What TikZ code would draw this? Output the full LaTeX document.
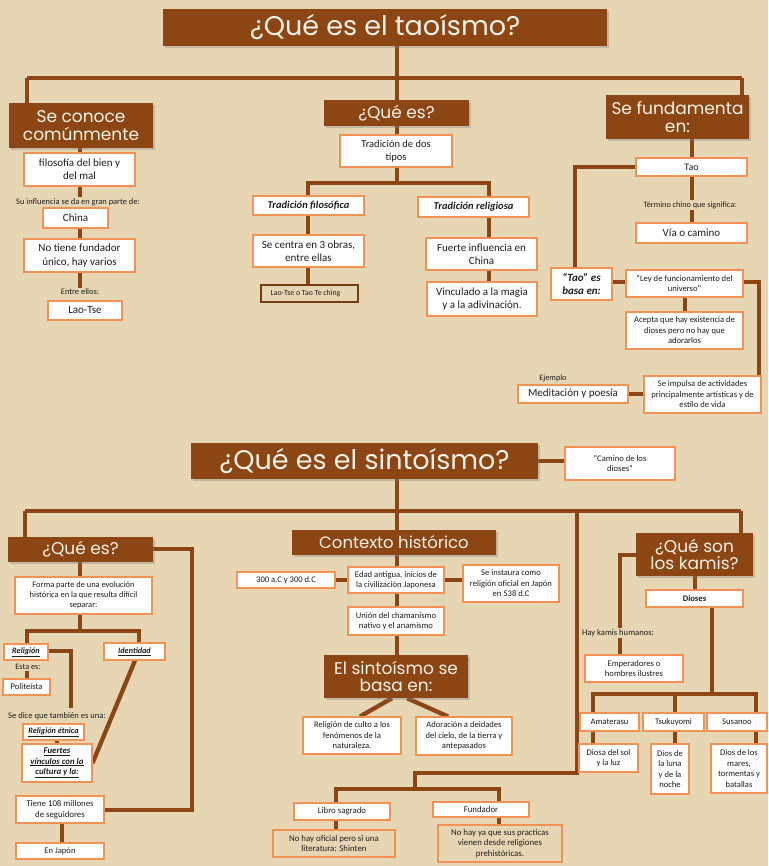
\documentclass[tikz,border=0pt]{standalone}
\usepackage{fontspec}
\setmainfont{Carlito}
\newfontfamily\titlefont{Poppins}
\usetikzlibrary{backgrounds,shadows}
\definecolor{parch}{RGB}{231,214,180}
\definecolor{tbrown}{RGB}{139,70,20}
\definecolor{borange}{RGB}{242,146,84}
\definecolor{cream}{RGB}{250,242,232}
\definecolor{ink}{RGB}{30,30,30}
\newcommand\fs[1]{\fontsize{#1}{1.22\dimexpr#1pt\relax}\selectfont}
\newcommand\mkbox[7]{\node[#2, minimum width={(#5-#3)*1pt}, minimum height={(#6-#4)*1pt}] (#1) at ({(#3+#5)/2},{(#4+#6)/2}) {#7};}
\tikzset{
  wbox/.style={draw=borange, line width=1.1pt, fill=white, inner sep=1pt, align=center, text=ink},
  ebox/.style={draw=borange, line width=1.1pt, inner sep=1pt, align=center, text=ink},
  lbox/.style={draw=tbrown!85!black, line width=1.1pt, inner sep=2pt, align=left, text=ink},
  tbox/.style={fill=tbrown, text=cream, inner sep=1pt, align=center, drop shadow={opacity=0.35, shadow xshift=2pt, shadow yshift=-2pt}},
  ftxt/.style={inner sep=1pt, align=center, text=ink},
  conn/.style={draw=tbrown, line width=4.3pt}
}
\begin{document}
\begin{tikzpicture}[x=1pt, y=-1pt]
\begin{pgfonlayer}{background}
\fill[parch] (0,0) rectangle (768,866);
\end{pgfonlayer}
\useasboundingbox (0,0) rectangle (768,866);

% ===== TAOISMO =====
\mkbox{T1}{tbox, font=\titlefont\fs{27}}{163}{9}{607}{46}{¿Qué es el taoísmo?}
\mkbox{A1}{tbox, font=\titlefont\fs{17}}{9}{103}{153}{148}{Se conoce\\[-3pt]comúnmente}
\mkbox{A2}{wbox, font=\fs{11}}{24}{153}{135}{186}{filosofía del bien  y\\del mal}
\node[ftxt, font=\fs{8.4}] (A3) at (78,202) {Su influencia se da en gran parte de:};
\mkbox{A4}{wbox, font=\fs{11}}{43}{208}{108}{228}{China}
\mkbox{A5}{wbox, font=\fs{11}}{24}{239}{135}{272}{No tiene fundador\\único, hay varios}
\node[ftxt, font=\fs{8.4}] (A6) at (80,292) {Entre ellos:};
\mkbox{A7}{wbox, font=\fs{11}}{48}{301}{122}{320}{Lao-Tse}

\mkbox{B1}{tbox, font=\titlefont\fs{17}}{324}{100}{469}{126}{¿Qué es?}
\mkbox{B2}{wbox, font=\fs{10.5}}{340}{135}{452}{167}{Tradición de dos\\tipos}
\mkbox{B3}{wbox, font=\fs{10.5}\bfseries\itshape}{253}{196}{364}{215}{Tradición filosófica}
\mkbox{B4}{wbox, font=\fs{10.5}\bfseries\itshape}{418}{197}{529}{217}{Tradición religiosa}
\mkbox{B5}{wbox, font=\fs{11}}{253}{235}{364}{267}{Se centra en 3 obras,\\entre ellas}
\mkbox{B6}{lbox, font=\fs{7.8}}{261}{285}{358}{302}{Lao-Tse o Tao Te ching\hspace{8pt}}
\mkbox{B7}{wbox, font=\fs{11}}{426}{238}{537}{270}{Fuerte influencia en\\China}
\mkbox{B8}{wbox, font=\fs{11}}{427}{282}{537}{316}{Vinculado a la magia\\y a la adivinación.}

\mkbox{C1}{tbox, font=\titlefont\fs{17}}{606}{95}{749}{139}{Se fundamenta\\[-3pt]en:}
\mkbox{C2}{wbox, font=\fs{10}}{636}{158}{747}{176}{Tao}
\node[ftxt, font=\fs{8.2}] (C3) at (690,205) {Término chino que significa:};
\mkbox{C4}{wbox, font=\fs{11}}{636}{223}{747}{243}{Vía o camino}
\mkbox{C5}{wbox, font=\fs{11}\bfseries\itshape}{551}{268}{612}{300}{“Tao” es\\basa en:}
\mkbox{C6}{wbox, font=\fs{8.6}}{626}{270}{743}{297}{“Ley de funcionamiento del\\universo”}
\mkbox{C7}{wbox, font=\fs{8.6}}{626}{312}{743}{349}{Acepta que hay existencia de\\dioses pero no hay que\\adorarlos}
\mkbox{C8}{wbox, font=\fs{8.6}}{644}{376}{761}{413}{Se impulsa de actividades\\principalmente artísticas y de\\estilo de vida}
\mkbox{C9}{wbox, font=\fs{11}}{518}{385}{628}{403}{Meditación y poesía}
\node[ftxt, font=\fs{8.2}] (C10) at (553,378) {Ejemplo};

% ===== SINTOISMO =====
\mkbox{S0}{tbox, font=\titlefont\fs{27}}{191}{443}{538}{479}{¿Qué es el sintoísmo?}
\mkbox{S1}{wbox, font=\fs{8.6}}{565}{447}{675}{480}{“Camino de los\\dioses”}

\mkbox{D1}{tbox, font=\titlefont\fs{17}}{8}{537}{153}{562}{¿Qué es?}
\mkbox{D2}{wbox, font=\fs{8.4}}{15}{577}{152}{614}{Forma parte de una evolución\\histórica en la que resulta difícil\\separar:}
\mkbox{D3}{wbox, font=\fs{8.2}\bfseries\itshape}{4}{644}{48}{660}{\underline{Religión}}
\mkbox{D4}{wbox, font=\fs{8.2}\bfseries\itshape}{104}{643}{165}{660}{\underline{Identidad}}
\node[ftxt, font=\fs{8.2}] (D5) at (28,667) {Esta es:};
\mkbox{D6}{wbox, font=\fs{8.6}}{3}{679}{50}{695}{Politeísta}
\node[ftxt, font=\fs{8.6}] (D7) at (57,716) {Se dice que también es una:};
\mkbox{D8}{wbox, font=\fs{8.2}\bfseries\itshape}{23}{724}{84}{740}{\underline{Religión étnica}}
\mkbox{D9}{wbox, font=\fs{8.8}\bfseries\itshape}{22}{744}{92}{782}{\underline{Fuertes}\\\underline{vínculos con la}\\\underline{cultura y la:}}
\mkbox{D10}{wbox, font=\fs{8.8}}{16}{796}{104}{823}{Tiene 108 millones\\de seguidores}
\mkbox{D11}{wbox, font=\fs{8.6}}{16}{843}{104}{859}{En Japón}

\mkbox{E1}{tbox, font=\titlefont\fs{16.5}}{292}{530}{496}{555}{Contexto histórico}
\mkbox{E2}{wbox, font=\fs{8.6}}{237}{572}{335}{588}{300 a.C y 300 d.C}
\mkbox{E3}{wbox, font=\fs{8.6}}{348}{567}{444}{593}{Edad antigua, inicios de\\la civilización Japonesa}
\mkbox{E4}{wbox, font=\fs{8.6}}{463}{565}{559}{602}{Se instaura como\\religión oficial en Japón\\en 538 d.C}
\mkbox{E5}{wbox, font=\fs{8.6}}{348}{607}{444}{635}{Unión del chamanismo\\nativo y el anamismo}
\mkbox{E6}{tbox, font=\titlefont\fs{17}}{324}{655}{468}{698}{El sintoísmo se\\[-3pt]basa en:}
\mkbox{E7}{wbox, font=\fs{8.6}}{303}{717}{401}{754}{Religión de culto a los\\fenómenos de la\\naturaleza.}
\mkbox{E8}{wbox, font=\fs{8.6}}{416}{717}{512}{755}{Adoración a deidades\\del cielo, de la tierra y\\antepasados}

\mkbox{F1}{wbox, font=\fs{8.8}}{294}{803}{390}{820}{Libro sagrado}
\mkbox{F2}{ebox, font=\fs{8.8}}{273}{830}{395}{857}{No hay oficial pero si una\\literatura: Shinten}
\mkbox{F3}{wbox, font=\fs{8.8}}{433}{802}{529}{817}{Fundador}
\mkbox{F4}{ebox, font=\fs{8.8}}{438}{825}{562}{862}{No hay ya que sus practicas\\vienen desde religiones\\prehistóricas.}

\mkbox{K1}{tbox, font=\titlefont\fs{17}}{636}{533}{753}{576}{¿Qué son\\[-3pt]los kamis?}
\node[ftxt, font=\fs{8.6}] (K2) at (618,633) {Hay kamis humanos:};
\mkbox{K3}{wbox, font=\fs{8.6}}{585}{655}{683}{682}{Emperadores o\\hombres ilustres}
\mkbox{K4}{wbox, font=\fs{8.6}\bfseries}{646}{590}{743}{607}{Dioses}
\mkbox{K5}{wbox, font=\fs{8.6}}{580}{713}{639}{731}{Amaterasu}
\mkbox{K6}{wbox, font=\fs{8.6}}{643}{713}{704}{731}{Tsukuyomi}
\mkbox{K7}{wbox, font=\fs{8.6}}{707}{713}{767}{731}{Susanoo}
\mkbox{K8}{wbox, font=\fs{8.6}}{579}{744}{638}{772}{Diosa del sol\\y la luz}
\mkbox{K9}{wbox, font=\fs{8.6}}{651}{744}{689}{794}{Dios de\\la luna\\y de la\\noche}
\mkbox{K10}{wbox, font=\fs{8.6}}{711}{744}{767}{793}{Dios de los\\mares,\\tormentas y\\batallas}

% ===== junction coordinates =====
\coordinate (jt) at (397,78);
\coordinate (jtl) at (27,78);
\coordinate (jtr) at (742,78);
\coordinate (xa) at (80,0);
\coordinate (jb) at (397,183);
\coordinate (jbl) at (308,183);
\coordinate (jbr) at (489,183);
\coordinate (xc) at (692,0);
\coordinate (jc) at (575,167);
\coordinate (xc7) at (685,0);
\coordinate (jc8) at (759,282);
\coordinate (js) at (397,511);
\coordinate (jsl) at (25,511);
\coordinate (jsr) at (741,511);
\coordinate (jsm) at (577,511);
\coordinate (jd) at (192,549);
\coordinate (jd2) at (192,810);
\coordinate (jd3) at (80,631);
\coordinate (jd3l) at (27,631);
\coordinate (jd3r) at (139,631);
\coordinate (jd4) at (71,651);
\coordinate (jd5) at (71,708);
\coordinate (xd9) at (57,0);
\coordinate (xd10) at (62,0);
\coordinate (xd4) at (135,0);
\coordinate (xe7a) at (392,0);
\coordinate (xe7b) at (360,0);
\coordinate (xe8a) at (407,0);
\coordinate (xe8b) at (448,0);
\coordinate (jm1) at (577,773);
\coordinate (jm2) at (415,773);
\coordinate (jm3) at (415,789);
\coordinate (jml) at (336,789);
\coordinate (jmr) at (499,789);
\coordinate (jk) at (620,555);
\coordinate (xk4) at (695,0);
\coordinate (jk5) at (712,694);
\coordinate (jk5l) at (593,694);
\coordinate (jk5m) at (675,694);
\coordinate (jk5r) at (756,694);

\begin{pgfonlayer}{background}
% taoismo
\draw[conn] (T1.south -| jt) -- (jt);
\draw[conn] (jtl) -- (jtr);
\draw[conn] (jtl) -- (A1.north -| jtl);
\draw[conn] (jt) -- (B1.north -| jt);
\draw[conn] (jtr) -- (C1.north -| jtr);
\draw[conn] (A1.south -| xa) -- (A2.north -| xa);
\draw[conn] (A2.south -| xa) -- (A3.north -| xa);
\draw[conn] (A4.south -| xa) -- (A5.north -| xa);
\draw[conn] (A5.south -| xa) -- (A6.north -| xa);
\draw[conn] (B1.south -| jb) -- (B2.north -| jb);
\draw[conn] (B2.south -| jb) -- (jb);
\draw[conn] (B3.north -| jbl) |- (jbr) -- (B4.north -| jbr);
\draw[conn] (B3.south -| jbl) -- (B5.north -| jbl);
\draw[conn] (B5.south -| jbl) -- (B6.north -| jbl);
\draw[conn] (B4.south -| jbr) -- (B7.north -| jbr);
\draw[conn] (B7.south -| jbr) -- (B8.north -| jbr);
\draw[conn] (C1.south -| xc) -- (C2.north -| xc);
\draw[conn] (C2.south -| xc) -- (C3.north -| xc);
\draw[conn] (C3.south -| xc) -- (C4.north -| xc);
\draw[conn] (C2.west |- jc) -- (jc) -- (C5.north -| jc);
\draw[conn] (C5.east |- jc8) -- (C6.west |- jc8);
\draw[conn] (C6.south -| xc7) -- (C7.north -| xc7);
\draw[conn] (C6.east |- jc8) -- (jc8) -- (C8.north -| jc8);
\draw[conn] (C8.west |- C9.east) -- (C9.east);
% sintoismo
\draw[conn] (S0.east) -- (S1.west |- S0.east);
\draw[conn] (S0.south -| js) -- (js);
\draw[conn] (jsl) -- (jsr);
\draw[conn] (jsl) -- (D1.north -| jsl);
\draw[conn] (js) -- (E1.north -| js);
\draw[conn] (jsr) -- (K1.north -| jsr);
\draw[conn] (D1.east |- jd) -- (jd) -- (jd2) -- (D10.east |- jd2);
\draw[conn] (D1.south -| xa) -- (D2.north -| xa);
\draw[conn] (D2.south -| xa) -- (jd3);
\draw[conn] (D3.north -| jd3l) -- (jd3l) -- (jd3r) -- (D4.north -| jd3r);
\draw[conn] (D3.east |- jd4) -- (jd4) -- (jd5);
\draw[conn] (D5.south -| jd3l) -- (D6.north -| jd3l);
\draw[conn] (D8.south -| xd9) -- (D9.north -| xd9);
\draw[conn] (D4.south -| xd4) -- (D9.east);
\draw[conn] (D10.south -| xd10) -- (D11.north -| xd10);
\draw[conn] (E1.south -| js) -- (E3.north -| js);
\draw[conn] (E3.south -| js) -- (E5.north -| js);
\draw[conn] (E5.south -| js) -- (E6.north -| js);
\draw[conn] (E2.east) -- (E3.west |- E2.east);
\draw[conn] (E3.east |- E2.east) -- (E4.west |- E2.east);
\draw[conn] (E6.south -| xe7a) -- (E7.north -| xe7b);
\draw[conn] (E6.south -| xe8a) -- (E8.north -| xe8b);
\draw[conn] (jsm) -- (jm1) -- (jm2) -- (jm3);
\draw[conn] (F1.north -| jml) |- (jmr) -- (F3.north -| jmr);
\draw[conn] (F1.south -| jml) -- (F2.north -| jml);
\draw[conn] (F3.south -| jmr) -- (F4.north -| jmr);
\draw[conn] (K1.west |- jk) -- (jk) -- (K2.north -| jk);
\draw[conn] (K2.south -| jk) -- (K3.north -| jk);
\draw[conn] (K1.south -| xk4) -- (K4.north -| xk4);
\draw[conn] (K4.south -| jk5) -- (jk5);
\draw[conn] (K5.north -| jk5l) |- (jk5r) -- (K7.north -| jk5r);
\draw[conn] (jk5m) -- (K6.north -| jk5m);
\draw[conn] (K5.south -| jk5l) -- (K8.north -| jk5l);
\draw[conn] (K6.south -| jk5m) -- (K9.north -| jk5m);
\draw[conn] (K7.south -| jk5r) -- (K10.north -| jk5r);
\end{pgfonlayer}
\end{tikzpicture}
\end{document}
